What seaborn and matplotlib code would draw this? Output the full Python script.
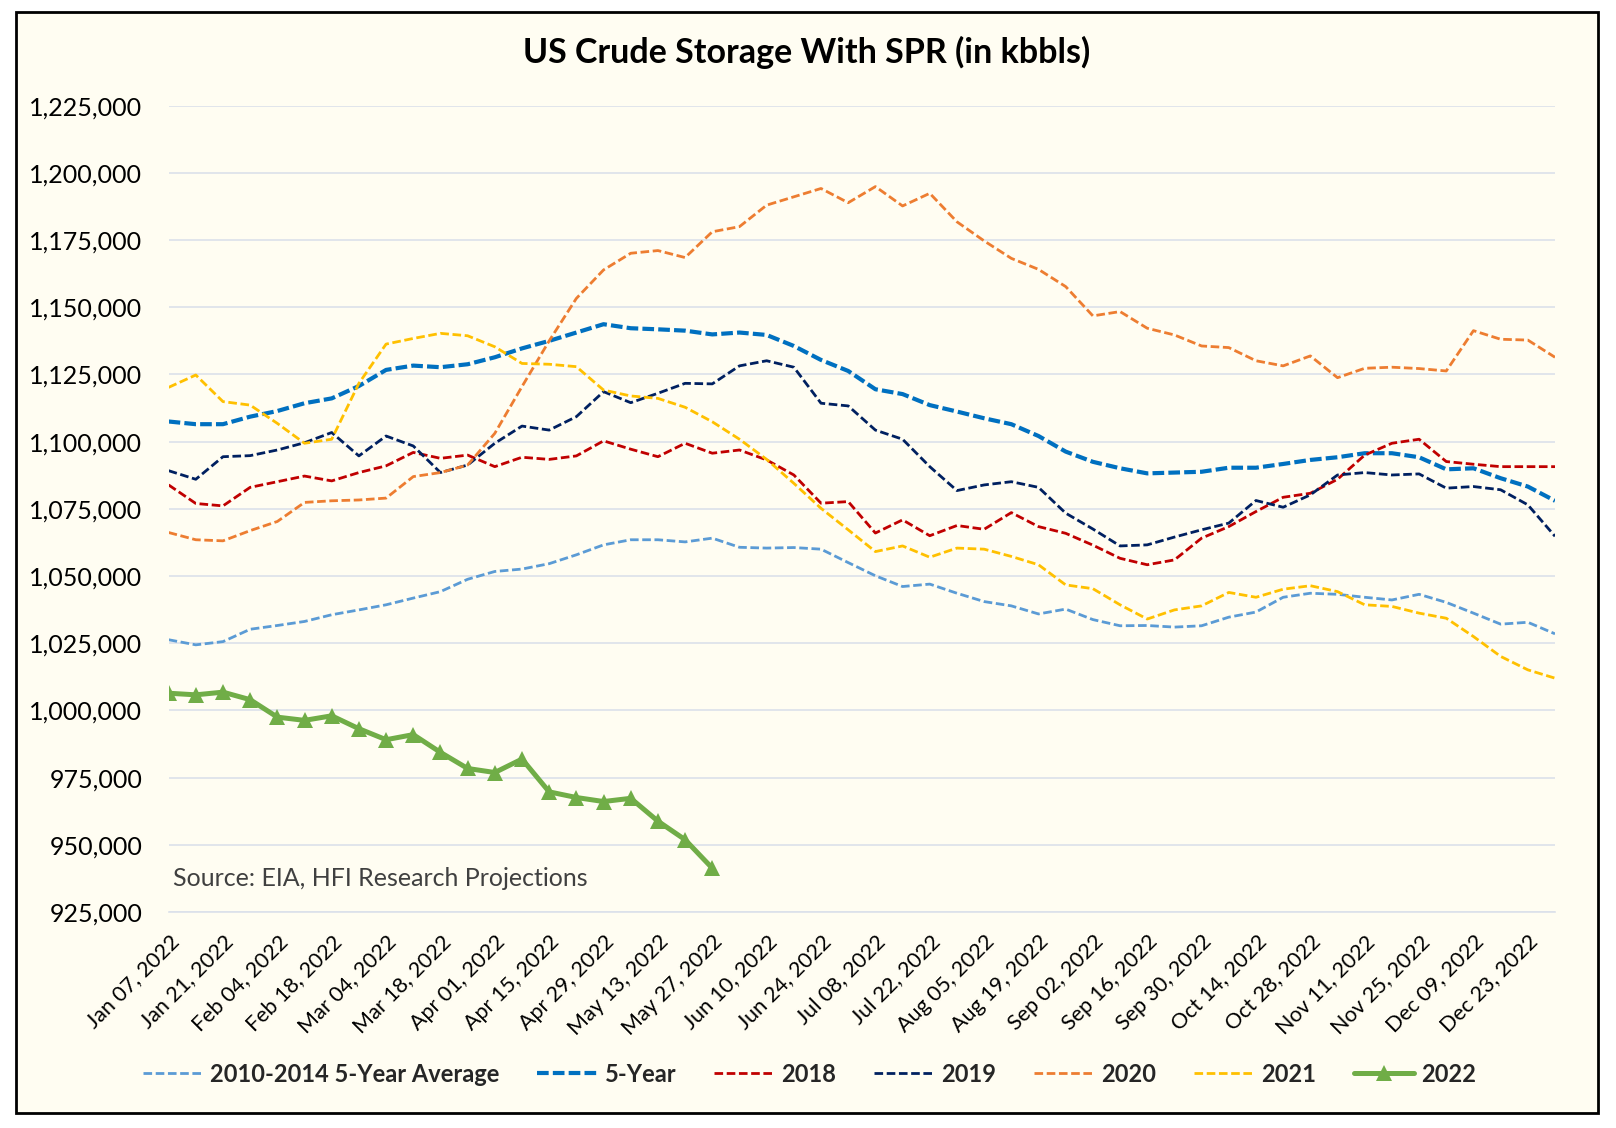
import pandas as pd
import numpy as np
import matplotlib
matplotlib.use('Agg')
import matplotlib.pyplot as plt
import matplotlib.dates as mdates
from matplotlib.patches import Rectangle
from matplotlib.lines import Line2D
from matplotlib.ticker import FuncFormatter
import seaborn as sns

sns.set_style('white')
plt.rcParams['font.family'] = ['Lato', 'DejaVu Sans']

# weekly dates, Jan 07 2022 .. Dec 30 2022
weeks = pd.date_range('2022-01-07', periods=52, freq='7D')

avg_2010_2014 = [1026300, 1024400, 1025600, 1030200, 1031600, 1033100, 1035600, 1037400, 1039300, 1041800,
                 1044200, 1048800, 1051700, 1052600, 1054600, 1057900, 1061600, 1063500, 1063500, 1062700,
                 1064100, 1060700, 1060400, 1060600, 1060000, 1055000, 1050100, 1046100, 1047000, 1043600,
                 1040500, 1038900, 1035900, 1037700, 1033800, 1031500, 1031600, 1031000, 1031500, 1034700,
                 1036600, 1042100, 1043600, 1043200, 1042100, 1041100, 1043200, 1040200, 1036200, 1032100,
                 1032800, 1028500]
five_year = [1107500, 1106500, 1106500, 1109300, 1111400, 1114300, 1116100, 1120700, 1126700, 1128300,
             1127700, 1128800, 1131400, 1134700, 1137500, 1140600, 1143700, 1142200, 1141800, 1141300,
             1139900, 1140600, 1139700, 1135600, 1130400, 1126300, 1119500, 1117700, 1113600, 1111200,
             1108700, 1106500, 1102100, 1096300, 1092500, 1090100, 1088200, 1088500, 1088800, 1090300,
             1090300, 1091700, 1093200, 1094200, 1095700, 1095700, 1094200, 1089700, 1090100, 1086400,
             1083300, 1078000]
y2018 = [1083900, 1077000, 1076100, 1083000, 1085100, 1087200, 1085400, 1088500, 1091000, 1096000,
         1093800, 1095000, 1090700, 1094200, 1093400, 1094700, 1100300, 1097200, 1094400, 1099400,
         1095700, 1096900, 1093200, 1087600, 1077100, 1077700, 1066000, 1070900, 1065000, 1068800,
         1067400, 1073600, 1068400, 1065900, 1061500, 1056600, 1054200, 1056000, 1064100, 1068400,
         1074000, 1079300, 1080800, 1086000, 1095000, 1099400, 1100900, 1092600, 1091600, 1090700,
         1090700, 1090700]
y2019 = [1089200, 1086000, 1094400, 1094800, 1096900, 1099600, 1103400, 1094700, 1102100, 1098400,
         1088500, 1091300, 1099400, 1105800, 1104300, 1109300, 1118600, 1114500, 1118000, 1121700,
         1121500, 1128200, 1130100, 1127700, 1114300, 1113300, 1104300, 1100900, 1090700, 1081800,
         1083900, 1085100, 1083000, 1073400, 1067500, 1061200, 1061600, 1064500, 1067200, 1069700,
         1078100, 1075600, 1080200, 1087600, 1088500, 1087600, 1088000, 1082700, 1083300, 1082100,
         1076500, 1064800]
y2020 = [1066200, 1063500, 1063100, 1066900, 1070300, 1077400, 1078000, 1078300, 1079000, 1087000,
         1088500, 1091300, 1103100, 1120500, 1137500, 1153300, 1163900, 1170100, 1171100, 1168500,
         1178100, 1180000, 1188000, 1191100, 1194200, 1188900, 1194900, 1187700, 1192400, 1181800,
         1174700, 1168200, 1164100, 1157700, 1146800, 1148400, 1142200, 1139700, 1135600, 1135000,
         1130100, 1128200, 1131900, 1123800, 1127300, 1127700, 1127200, 1126300, 1141300, 1138100,
         1137800, 1131400]
y2021 = [1120200, 1124800, 1114900, 1113600, 1106800, 1099400, 1100900, 1121700, 1136300, 1138400,
         1140300, 1139400, 1135300, 1129100, 1128800, 1127900, 1119200, 1117000, 1116100, 1112800,
         1107400, 1100900, 1093400, 1084500, 1075200, 1067200, 1059100, 1061200, 1057000, 1060400,
         1060000, 1057300, 1054200, 1046700, 1045300, 1039300, 1034000, 1037400, 1038900, 1043900,
         1042100, 1045100, 1046400, 1044200, 1039300, 1038700, 1036200, 1034300, 1027500, 1020100,
         1015100, 1012000]
# 2022 actuals + projections (through May 27)
y2022 = [1006400, 1005800, 1006800, 1004000, 997500, 996300, 998000, 993200, 989100, 991000,
         984400, 978400, 976900, 981900, 969700, 967600, 966100, 967300, 958800, 951900, 941300]

cream = '#FFFDF2'
grid_c = '#DCE1EA'

fig = plt.figure(figsize=(16.16, 11.28), dpi=100)
fig.patch.set_facecolor('white')
fig.patches.append(Rectangle((16/1616, 1-1113/1128), (1598-16)/1616, (1113-12)/1128,
                             transform=fig.transFigure, facecolor=cream, edgecolor='black',
                             lw=2, zorder=-1))

ax = fig.add_axes([168.6/1616, 1-912/1128, (1555-168.6)/1616, (912-105.7)/1128])
ax.set_facecolor('none')

# name, values, colour, linewidth, dash pattern
dashed = [
    ('2010-2014 5-Year Average', avg_2010_2014, '#5B9BD5', 2.0, (3.1, 1.3)),
    ('5-Year', five_year, '#0070C0', 3.0, (2.8, 1.0)),
    ('2018', y2018, '#C00000', 2.0, (3.1, 1.3)),
    ('2019', y2019, '#002060', 2.0, (3.1, 1.3)),
    ('2020', y2020, '#ED7D31', 2.0, (3.1, 1.3)),
    ('2021', y2021, '#FFC000', 2.0, (3.1, 1.3)),
]
handles = []
for name, vals, col, lw, dash in dashed:
    df = pd.DataFrame({'week': weeks[:len(vals)], 'kbbls': vals})
    sns.lineplot(data=df, x='week', y='kbbls', ax=ax, color=col, lw=lw,
                 linestyle=(0, dash), zorder=3)
    handles.append(Line2D([], [], color=col, lw=lw, linestyle=(0, dash)))

df22 = pd.DataFrame({'week': weeks[:len(y2022)], 'kbbls': y2022})
sns.lineplot(data=df22, x='week', y='kbbls', ax=ax, color='#70AD47', lw=3.6,
             marker='^', markersize=11, markeredgewidth=0, zorder=4)
handles.append(Line2D([], [], color='#70AD47', lw=3.6, marker='^', markersize=11, markeredgewidth=0))
labels = [d[0] for d in dashed] + ['2022']

ax.set_xlim(weeks[0], weeks[-1])
ax.set_ylim(925000, 1225000)
ax.set_yticks(np.arange(925000, 1225001, 25000))
ax.yaxis.set_major_formatter(FuncFormatter(lambda v, p: f'{int(v):,}'))
ax.set_xticks(weeks[::2])
ax.xaxis.set_major_formatter(mdates.DateFormatter('%b %d, %Y'))
ax.set_xlabel('')
ax.set_ylabel('')

ax.grid(axis='y', color=grid_c, lw=1.2, zorder=0)
ax.grid(axis='x', visible=False)
for s in ['top', 'right', 'left']:
    ax.spines[s].set_visible(False)
ax.spines['bottom'].set_color(grid_c)
ax.spines['bottom'].set_linewidth(1.2)

ax.tick_params(axis='y', length=0, pad=19, labelsize=18, labelcolor='black')
ax.tick_params(axis='x', length=5, width=1.2, color=grid_c, direction='out', pad=9,
               labelsize=15.5, labelcolor='black')
for lab in ax.get_xticklabels():
    lab.set_rotation(45)
    lab.set_ha('right')
    lab.set_va('top')
    lab.set_rotation_mode('anchor')

fig.text(0.4994, 1-52/1128, 'US Crude Storage With SPR (in kbbls)', ha='center', va='center',
         fontsize=24.5, fontweight='bold', color='black')
fig.text(173/1616, 1-886/1128, 'Source: EIA, HFI Research Projections', ha='left', va='baseline',
         fontsize=18, color='#404040')

fig.legend(handles, labels, loc='center', bbox_to_anchor=(0.501, 1-1074/1128), ncol=7,
           frameon=False, prop={'weight': 'bold', 'size': 17}, handlelength=2.55,
           handletextpad=0.3, columnspacing=1.6)

fig.savefig('out.png', dpi=100, facecolor=fig.get_facecolor())
